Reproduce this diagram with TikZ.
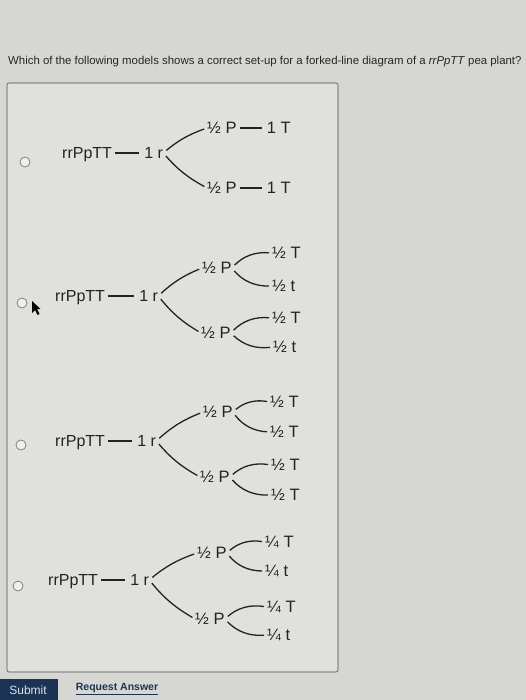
\documentclass[tikz,border=0pt]{standalone}
\usepackage{fontspec}
\setmainfont{Liberation Sans}
\usetikzlibrary{positioning}
\definecolor{paper}{RGB}{214,214,210}
\definecolor{ink}{RGB}{35,35,35}
\definecolor{navy}{RGB}{28,52,84}
\tikzset{
	hand/.style={inner sep=0pt, text=ink, text height=11.5pt, text depth=0pt, font=\fontsize{16}{16}\selectfont},
	frac/.style={inner sep=0pt, text=ink, text height=11.5pt, text depth=0pt, font=\fontsize{16.5}{16}\selectfont, anchor=west},
	fork/.style={ink, line width=1.3pt, shorten <=4pt, shorten >=3pt},
	bar/.style={ink, line width=1.3pt, shorten <=3pt, shorten >=5pt},
	up/.style={fork, bend left=#1},
	down/.style={fork, bend right=#1},
	radio/.style={draw=gray, line width=0.8pt, fill=white!60!paper, circle, minimum size=10pt, inner sep=0pt},
}
\begin{document}
\begin{tikzpicture}[x=1pt, y=-1pt]
		\fill[paper] (0,0) rectangle (526,700);
		\useasboundingbox (0,0) rectangle (526,700);

		\node[anchor=west, inner sep=0pt, text=black!85, font=\fontsize{11.4}{13}\selectfont] (q) at (8,62)
			{Which of the following models shows a correct set-up for a forked-line diagram of a \textit{rrPpTT} pea plant?};
		\draw[gray!60!black, line width=0.6pt, rounded corners=2pt, fill=white!25!paper] (7,83) rectangle (338,672);

		% option 1
		\node[radio] (o1) at (25,162) {};
		\node[hand, anchor=west] (g1) at (62,153) {rrPpTT};
		\node[hand, base right=32 of g1] (r1) {1 r};
		\node[frac] (P1a) at (207,128) {½ P};
		\node[frac] (P1b) at (207,188) {½ P};
		\node[frac, base right=30 of P1a] (T1a) {1 T};
		\node[frac, base right=30 of P1b] (T1b) {1 T};
		\draw[bar] (g1) -- (r1);
		\draw[up=10] (r1.east) to (P1a.west);
		\draw[down=10] (r1.east) to (P1b.west);
		\draw[bar] (P1a) -- (T1a);
		\draw[bar] (P1b) -- (T1b);

		% option 2
		\node[radio] (o2) at (22,303) {};
		\fill[black] (32,301) -- (32,313) -- (35,310) -- (37.5,315) -- (39.5,314) -- (37,309) -- (40.5,309) -- cycle;
		\node[hand, anchor=west] (g2) at (55,296) {rrPpTT};
		\node[hand, base right=34 of g2] (r2) {1 r};
		\node[frac] (P2a) at (202,268) {½ P};
		\node[frac] (P2b) at (201,333) {½ P};
		\node[frac] (T2a) at (272,253) {½ T};
		\node[frac] (T2b) at (272,286) {½ t};
		\node[frac] (T2c) at (272,318) {½ T};
		\node[frac] (T2d) at (273,347) {½ t};
		\draw[bar] (g2) -- (r2);
		\draw[up=10] (r2.east) to (P2a.west);
		\draw[down=10] (r2.east) to (P2b.west);
		\draw[up=25] (P2a.east) to (T2a.west);
		\draw[down=25] (P2a.east) to (T2b.west);
		\draw[up=25] (P2b.east) to (T2c.west);
		\draw[down=25] (P2b.east) to (T2d.west);

		% option 3
		\node[radio] (o3) at (21,445) {};
		\node[hand, anchor=west] (g3) at (55,441) {rrPpTT};
		\node[hand, base right=32 of g3] (r3) {1 r};
		\node[frac] (P3a) at (203,412) {½ P};
		\node[frac] (P3b) at (200,477) {½ P};
		\node[frac] (T3a) at (270,402) {½ T};
		\node[frac] (T3b) at (270,432) {½ T};
		\node[frac] (T3c) at (271,465) {½ T};
		\node[frac] (T3d) at (271,495) {½ T};
		\draw[bar] (g3) -- (r3);
		\draw[up=10] (r3.east) to (P3a.west);
		\draw[down=10] (r3.east) to (P3b.west);
		\draw[up=25] (P3a.east) to (T3a.west);
		\draw[down=25] (P3a.east) to (T3b.west);
		\draw[up=25] (P3b.east) to (T3c.west);
		\draw[down=25] (P3b.east) to (T3d.west);

		% option 4
		\node[radio] (o4) at (18,586) {};
		\node[hand, anchor=west] (g4) at (48,580) {rrPpTT};
		\node[hand, base right=32 of g4] (r4) {1 r};
		\node[frac] (P4a) at (197,553) {½ P};
		\node[frac] (P4b) at (195,619) {½ P};
		\node[frac] (T4a) at (265,542) {¼ T};
		\node[frac] (T4b) at (265,571) {¼ t};
		\node[frac] (T4c) at (267,607) {¼ T};
		\node[frac] (T4d) at (267,635) {¼ t};
		\draw[bar] (g4) -- (r4);
		\draw[up=10] (r4.east) to (P4a.west);
		\draw[down=10] (r4.east) to (P4b.west);
		\draw[up=25] (P4a.east) to (T4a.west);
		\draw[down=25] (P4a.east) to (T4b.west);
		\draw[up=25] (P4b.east) to (T4c.west);
		\draw[down=25] (P4b.east) to (T4d.west);

		% buttons
		\fill[navy] (0,679) rectangle (58,700);
		\node[text=white!85!navy, font=\fontsize{12}{14}\selectfont] (sub) at (28,690) {Submit};
		\node[text=navy, font=\fontsize{10.5}{12}\selectfont\bfseries] (req) at (117,689) {\underline{Request Answer}};
	\end{tikzpicture}
\end{document}
